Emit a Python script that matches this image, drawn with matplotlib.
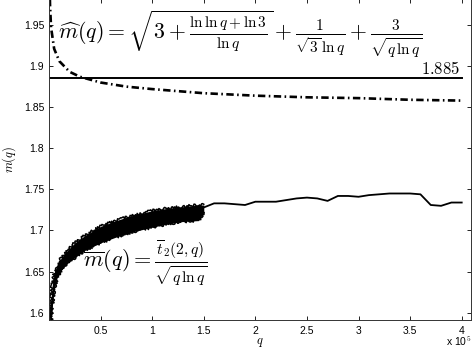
import numpy as np
import matplotlib
matplotlib.use("Agg")
import matplotlib.pyplot as plt
from matplotlib.ticker import FuncFormatter

plt.rcParams['font.family'] = ['Liberation Sans', 'DejaVu Sans']
plt.rcParams['mathtext.fontset'] = 'cm'

# dash-dot curve m_hat(q)
q_hat = [500, 700, 1000, 2000, 5000, 10000, 20000, 30000, 50000, 75000,
         100000, 150000, 200000, 250000, 300000, 350000, 400000]
m_hat = [2.010, 1.991, 1.974, 1.947, 1.921, 1.906, 1.893, 1.887, 1.880, 1.875,
         1.872, 1.867, 1.864, 1.862, 1.861, 1.859, 1.858]

# noisy part of m_bar(q): upper / lower envelope of the black band
q_band = [1000, 2000, 3000, 5000, 8000, 12000, 18000, 25000, 35000, 50000,
          65000, 80000, 100000, 115000, 130000, 145000, 150000]
band_hi = [1.575, 1.615, 1.632, 1.648, 1.658, 1.667, 1.676, 1.685, 1.694, 1.705,
           1.712, 1.718, 1.724, 1.727, 1.729, 1.731, 1.731]
band_lo = [1.550, 1.585, 1.605, 1.628, 1.643, 1.652, 1.660, 1.667, 1.676, 1.685,
           1.692, 1.698, 1.704, 1.708, 1.711, 1.712, 1.722]

# smooth part of m_bar(q)
q_bar = [150000, 160000, 170000, 180000, 190000, 200000, 210000, 220000, 230000,
         240000, 250000, 260000, 270000, 280000, 290000, 300000, 310000, 320000,
         330000, 340000, 350000, 360000, 370000, 380000, 390000, 400000]
m_bar = [1.728, 1.733, 1.733, 1.732, 1.731, 1.735, 1.735, 1.735, 1.737,
         1.739, 1.740, 1.739, 1.736, 1.742, 1.742, 1.741, 1.743, 1.744,
         1.745, 1.745, 1.745, 1.744, 1.731, 1.730, 1.734, 1.734]

m_const = 1.885

fig = plt.figure(figsize=(4.74, 3.55), dpi=100)
ax = fig.add_axes([49/474, 35/355, 422/474, 321/355])

ax.plot([0, 400000], [m_const, m_const], color='black', lw=1.4)
ax.plot(q_hat, m_hat, color='black', lw=1.9,
        linestyle=(0, (2.8, 1.3, 0.6, 1.3)))

# band drawn with rough edges (sketch style only, data unchanged)
ax.fill_between(q_band, band_lo, band_hi, color='black', lw=0)
for edge in (band_hi, band_lo):
    ln, = ax.plot(q_band, edge, color='black', lw=1.1)
    ln.set_sketch_params(scale=1.4, length=0.7, randomness=3)
ax.plot(q_bar, m_bar, color='black', lw=1.3)

ax.set_xlim(0, 409000)
ax.set_ylim(1.5911, 1.9816)
ax.set_xticks(np.arange(0.5, 4.01, 0.5) * 1e5)
ax.set_yticks([1.6, 1.65, 1.7, 1.75, 1.8, 1.85, 1.9, 1.95])
ax.xaxis.set_major_formatter(FuncFormatter(lambda v, p: '%g' % (v / 1e5)))
ax.yaxis.set_major_formatter(FuncFormatter(lambda v, p: '%g' % v))
ax.tick_params(direction='in', length=3, width=0.6, labelsize=7.5,
               top=True, right=True)
ax.tick_params(axis='x', pad=4)
for s in ax.spines.values():
    s.set_linewidth(0.7)
    s.set_color('#333333')

ax.set_xlabel('$q$', fontsize=9, labelpad=0)
ax.set_ylabel('$m(q)$', fontsize=9, labelpad=4)
ax.text(1.0, -0.045, r'x 10$^5$', transform=ax.transAxes, fontsize=7.5,
        ha='right', va='top')

ax.text(9000, 1.939,
        r'$\widehat{m}(q)=\sqrt{3+\frac{\ln\ln q+\ln 3}{\ln q}}+\frac{1}{\sqrt{3}\,\ln q}+\frac{3}{\sqrt{q\,\ln q}}$',
        fontsize=15.7, ha='left', va='center')
ax.text(398000, 1.887, '$1.885$', fontsize=12, ha='right', va='bottom')
ax.text(33000, 1.659, r'$\overline{m}(q)=\frac{\overline{t}_2(2,q)}{\sqrt{q\,\ln q}}$',
        fontsize=16, ha='left', va='center')

fig.savefig('out.png', dpi=100)
